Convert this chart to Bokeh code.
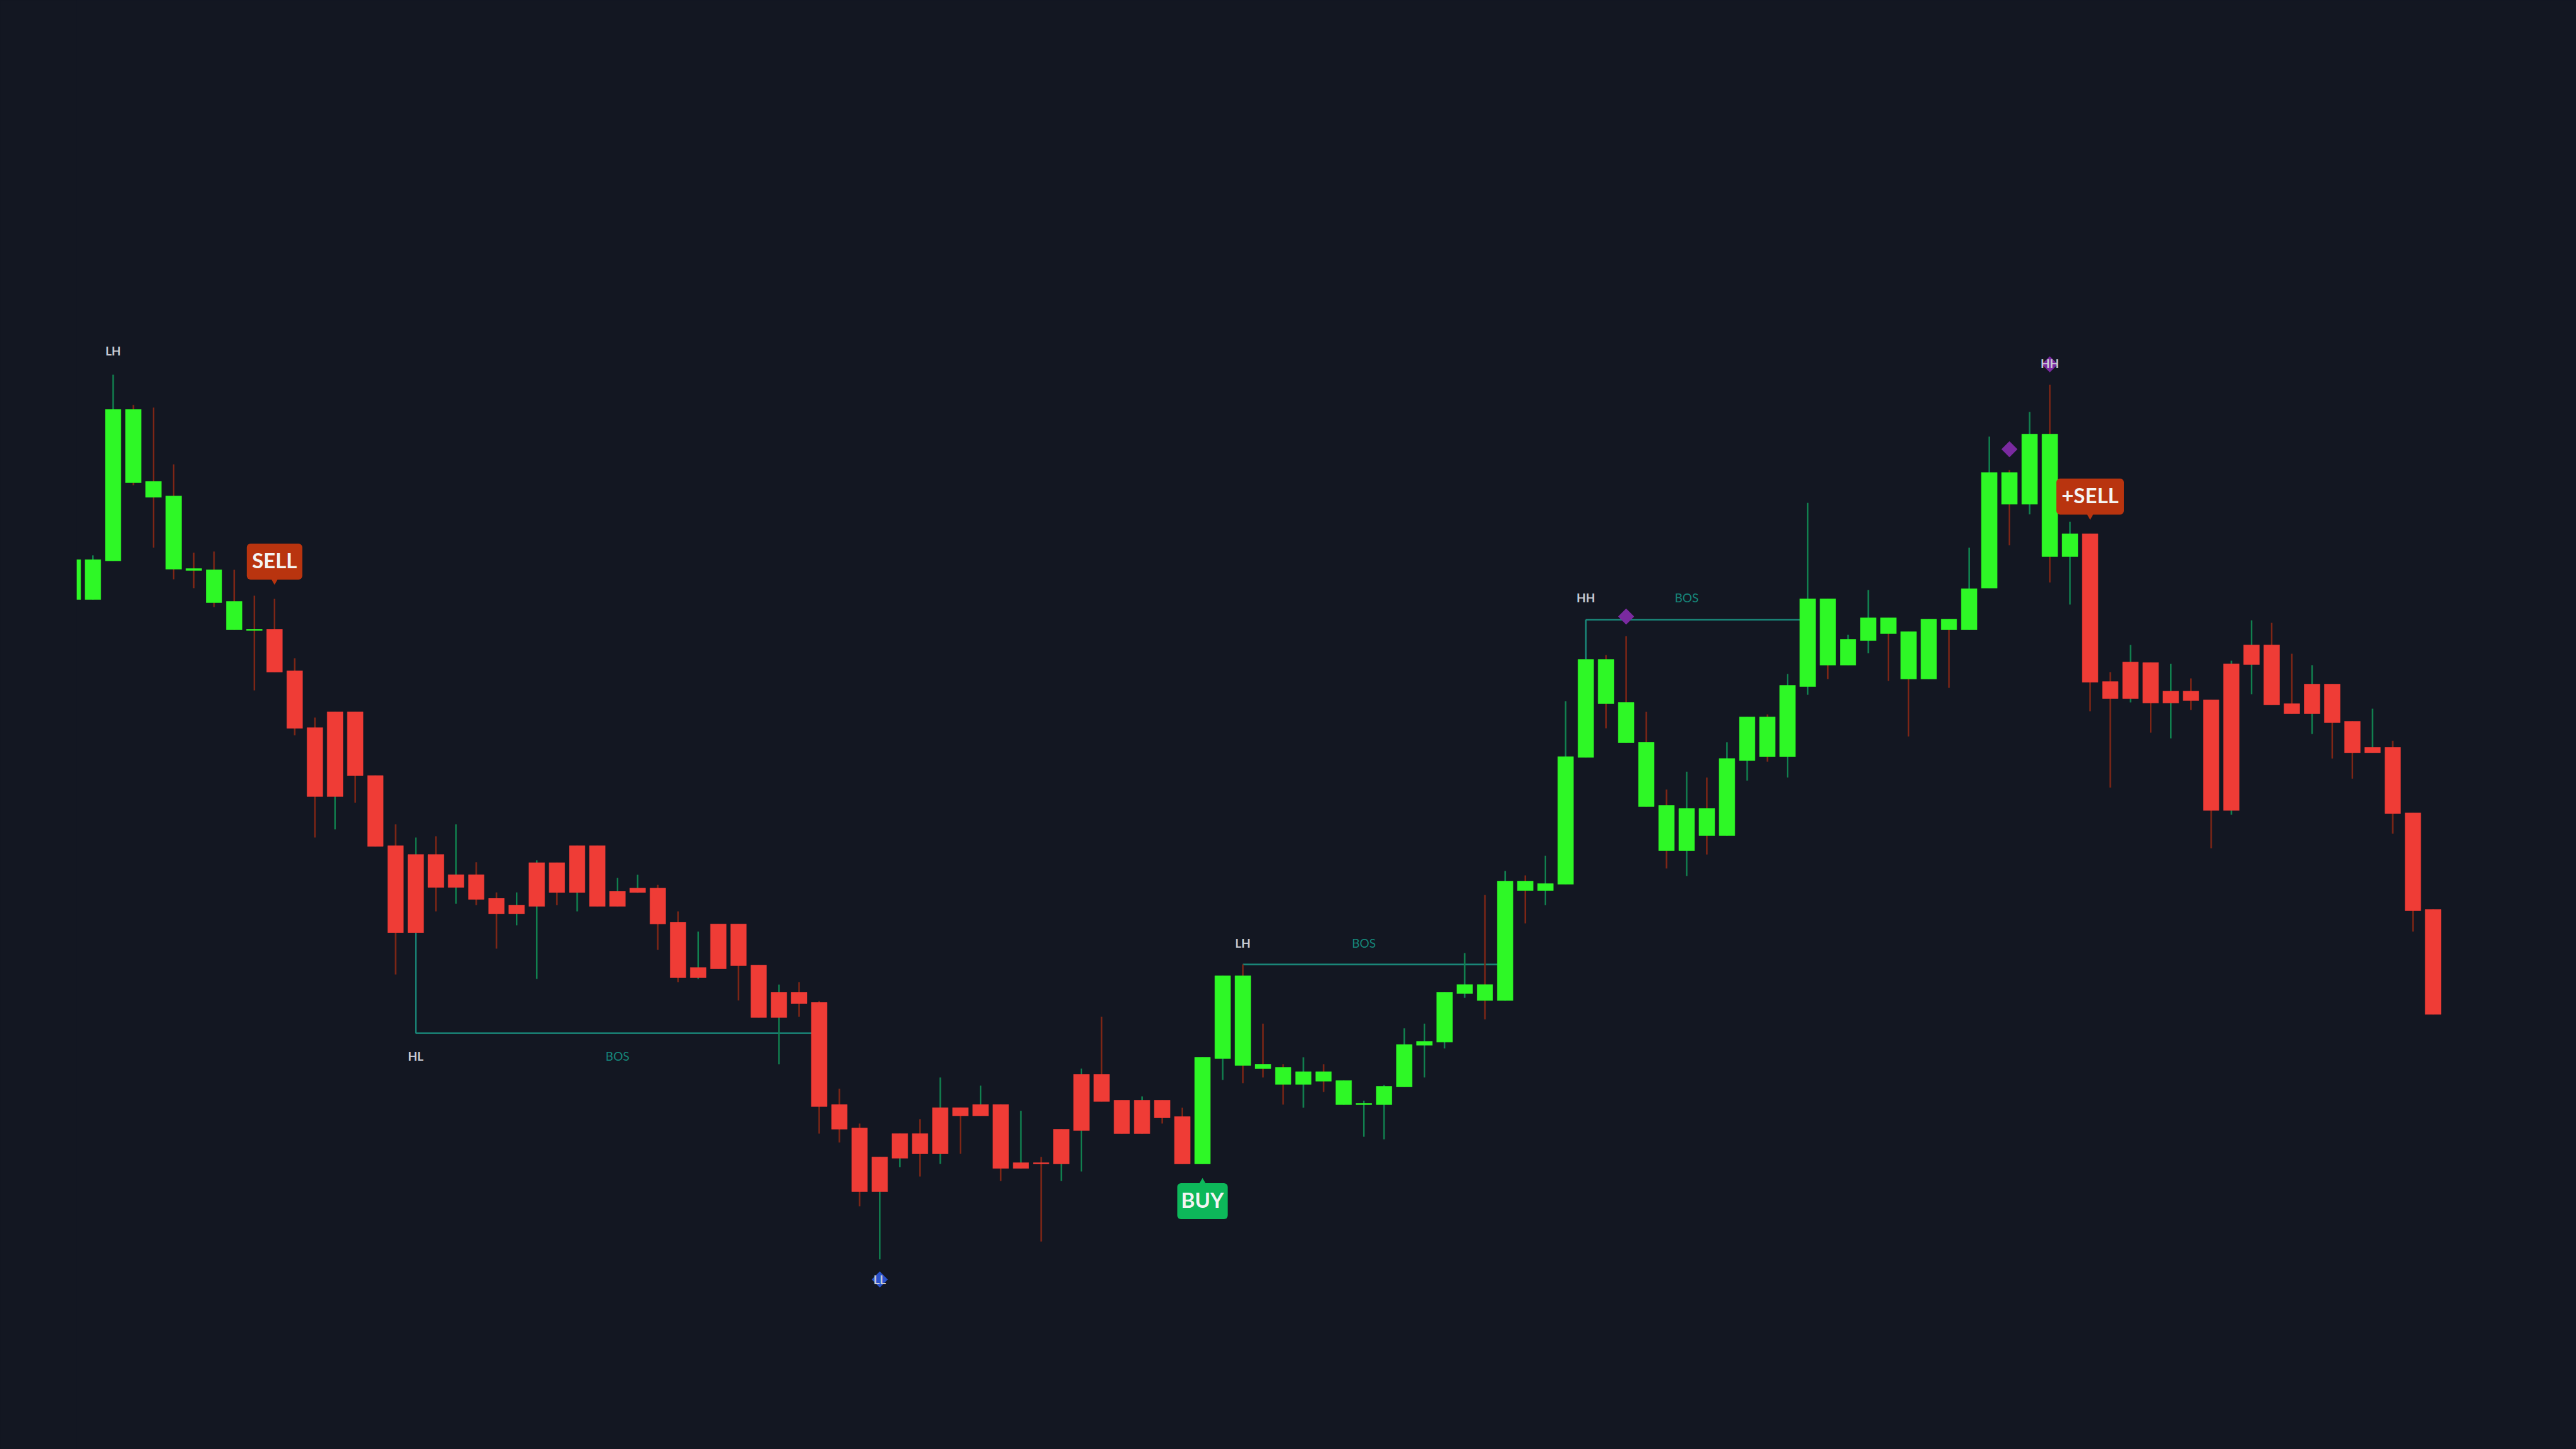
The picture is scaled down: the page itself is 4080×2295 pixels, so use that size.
import numpy as np
from bokeh.plotting import figure
from bokeh.models import ColumnDataSource, Range1d
from bokeh.core.properties import value
from bokeh.embed import file_html
from bokeh.resources import INLINE

# ---------------- data ----------------
opens = [155.1, 155.1, 161.2, 185.2, 173.8, 171.5, 160.0, 159.8, 154.8, 150.4,
         150.4, 143.8, 134.8, 123.9, 137.3, 127.2, 116.1, 102.3, 114.7, 109.5,
         111.5, 107.8, 105.3, 106.5, 113.4, 108.7, 116.1, 106.5, 108.7, 109.4,
         104.0, 95.2, 103.7, 103.7, 97.2, 88.9, 92.9, 91.3, 75.1, 71.4,
         61.3, 66.6, 70.5, 67.3, 74.6, 73.3, 75.1, 65.0, 65.9, 65.7,
         71.0, 79.9, 75.8, 70.5, 75.8, 73.2, 65.7, 82.4, 95.5, 81.5,
         81.0, 78.3, 80.3, 75.1, 75.1, 75.1, 77.9, 84.5, 85.0, 92.7,
         94.1, 91.6, 110.5, 109.0, 110.0, 130.1, 145.6, 138.8, 132.5, 122.5,
         115.3, 122.0, 117.7, 129.6, 136.5, 130.2, 141.3, 155.2, 144.7, 148.6,
         152.2, 150.0, 142.5, 152.0, 150.3, 156.9, 175.2, 170.2, 181.3, 161.9,
         165.5, 142.1, 139.4, 145.1, 138.7, 140.6, 139.2, 121.7, 144.8, 147.9,
         138.6, 137.0, 141.7, 135.8, 130.8, 131.7, 121.3, 106.0]
highs = [161.4, 162.1, 190.7, 185.9, 185.5, 176.5, 162.5, 162.7, 159.8, 155.7,
         155.2, 145.8, 136.4, 137.3, 137.3, 127.2, 119.5, 117.4, 117.6, 119.5,
         113.5, 108.7, 108.7, 113.8, 113.4, 116.1, 116.1, 111.0, 111.5, 109.9,
         105.7, 102.5, 103.7, 103.7, 97.2, 94.1, 94.5, 91.5, 77.6, 72.1,
         66.8, 70.5, 72.8, 79.4, 74.6, 78.1, 75.1, 74.1, 66.8, 71.2,
         80.8, 89.0, 75.8, 76.4, 75.8, 74.6, 82.6, 95.5, 97.3, 87.9,
         81.5, 82.6, 81.5, 78.9, 75.7, 78.2, 87.2, 87.9, 92.9, 99.1,
         108.3, 112.1, 111.4, 114.5, 139.0, 145.6, 146.3, 149.3, 137.3, 125.0,
         127.8, 126.9, 132.5, 136.5, 136.9, 143.3, 170.4, 155.2, 149.5, 156.6,
         152.2, 150.0, 152.0, 152.0, 163.3, 180.9, 175.6, 184.8, 189.1, 167.4,
         165.5, 143.6, 147.9, 145.1, 144.9, 142.6, 139.2, 145.4, 151.8, 151.4,
         146.5, 144.7, 141.7, 135.8, 137.8, 132.7, 121.3, 106.0]
lows = [155.1, 155.1, 161.2, 173.2, 163.3, 158.3, 156.9, 153.9, 150.3, 140.7,
        143.6, 133.6, 117.4, 118.7, 122.9, 116.0, 95.7, 102.3, 105.7, 106.9,
        106.7, 99.8, 103.5, 95.0, 106.7, 105.7, 106.5, 106.5, 108.7, 99.6,
        94.5, 95.0, 96.6, 91.6, 88.9, 81.5, 89.0, 70.5, 69.1, 59.0,
        50.6, 65.2, 63.7, 65.7, 67.3, 73.3, 63.0, 65.0, 53.4, 63.0,
        64.5, 75.6, 70.5, 70.5, 72.1, 65.7, 65.7, 79.0, 78.5, 79.4,
        75.1, 74.6, 77.1, 75.1, 70.0, 69.6, 77.9, 79.4, 84.0, 92.0,
        88.6, 91.6, 103.8, 106.7, 110.0, 130.1, 134.7, 132.4, 122.3, 112.5,
        111.3, 114.7, 117.7, 126.4, 129.4, 126.9, 140.0, 142.5, 144.7, 146.6,
        142.2, 133.4, 142.5, 141.1, 150.3, 156.9, 163.7, 168.6, 157.8, 154.3,
        137.4, 125.3, 138.8, 134.0, 133.1, 137.6, 115.7, 121.0, 140.1, 138.4,
        137.0, 133.8, 129.9, 126.7, 130.8, 118.0, 102.5, 89.4]
closes = [161.4, 161.4, 185.2, 173.6, 171.3, 159.9, 159.7, 154.6, 150.3, 150.2,
          143.6, 134.7, 123.9, 137.3, 127.2, 116.0, 102.3, 114.7, 109.5, 111.5,
          107.6, 105.3, 106.7, 113.4, 108.7, 116.1, 106.5, 108.9, 109.4, 103.7,
          95.2, 96.8, 96.6, 97.1, 88.9, 92.9, 91.1, 74.8, 71.2, 61.3,
          66.8, 70.5, 67.3, 74.6, 73.3, 75.1, 65.0, 65.9, 65.7, 71.2,
          79.9, 75.6, 70.5, 75.8, 73.0, 65.7, 82.6, 95.5, 81.3, 80.8,
          78.3, 80.3, 78.8, 78.9, 75.3, 78.0, 84.6, 85.1, 92.9, 94.1,
          91.6, 110.5, 109.0, 110.1, 130.2, 145.6, 138.6, 132.4, 122.3, 115.3,
          122.0, 117.7, 129.9, 136.5, 130.2, 141.5, 155.2, 144.7, 148.8, 152.2,
          149.7, 142.5, 152.0, 150.3, 156.8, 175.2, 170.2, 181.3, 161.9, 165.5,
          142.0, 139.4, 145.2, 138.7, 140.6, 139.1, 121.7, 144.9, 147.9, 138.4,
          137.0, 141.7, 135.6, 130.8, 131.7, 121.2, 105.8, 89.4]

# signals
sig_idx = [10, 56, 100]
sig_lbl = ["SELL", "BUY", "+SELL"]
sig_dir = [1, -1, 1]          # 1 = sell (above bar), -1 = buy (below bar)

# market structure swings
swing_idx = [2, 17, 40, 58, 75, 98]
swing_lbl = ["LH", "HL", "LL", "LH", "HH", "HH"]
swing_lvl = [194.5, 82.8, 47.4, 100.7, 155.4, 192.5]

# break of structure lines
bos_from = [17, 58, 75]
bos_to = [37, 71, 86]
bos_level = [86.4, 97.3, 151.9]
bos_lbl_idx = [27, 64, 80]
bos_lbl_lvl = [82.8, 100.7, 155.4]

# diamond markers
dia_idx = [40, 77, 96, 98]
dia_lvl = [47.4, 152.4, 178.9, 192.35]
dia_kind = ["low", "high", "high", "high"]

# ---------------- styling ----------------
BG = "#131722"
BULL_BODY = "#2ef826"
BEAR_BODY = "#ef3c36"
UP_WICK = "#11804f"
DN_WICK = "#7e2616"
TEAL = "#1a8a7b"
LABEL = "#c8cad3"

n = len(opens)
idx = np.arange(n)
o = np.array(opens); c = np.array(closes); h = np.array(highs); l = np.array(lows)

# body colour follows the signal regime (bull until SELL, bear until BUY ...)
state = 1
regime = []
sig_map = dict(zip(sig_idx, sig_dir))
for i in range(n):
    if i in sig_map:
        state = -sig_map[i]
    regime.append(state)
body_col = [BULL_BODY if r > 0 else BEAR_BODY for r in regime]
wick_col = [UP_WICK if cc >= oo else DN_WICK for oo, cc in zip(opens, closes)]

src = ColumnDataSource(dict(x=idx, top=np.maximum(o, c), bottom=np.minimum(o, c),
                            high=h, low=l, body=body_col, wick=wick_col))

W, H = 4080, 2295
LEFT = 121
p = figure(width=W, height=H, output_backend="svg", toolbar_location=None,
           x_range=Range1d(0.194, 124.1), y_range=Range1d(20.5, 250.0),
           min_border=0, min_border_left=LEFT, background_fill_color=BG,
           border_fill_color=BG, outline_line_color=None)
p.axis.visible = False
p.grid.visible = False

# structure lines
vx0, vy0, vx1, vy1 = [], [], [], []
hx0, hy0, hx1, hy1 = [], [], [], []
for s, e, lv in zip(bos_from, bos_to, bos_level):
    anchor = lows[s] if lv < lows[s] else highs[s]
    vx0.append(s); vy0.append(anchor); vx1.append(s); vy1.append(lv)
    hx0.append(s); hy0.append(lv); hx1.append(e); hy1.append(lv)
p.segment(x0=vx0, y0=vy0, x1=vx1, y1=vy1, line_color=TEAL, line_width=2.5)
p.segment(x0=hx0, y0=hy0, x1=hx1, y1=hy1, line_color=TEAL, line_width=2.5)

# candles
p.segment(x0="x", y0="low", x1="x", y1="high", line_color="wick", line_width=2.5, source=src)
p.vbar(x="x", width=0.78, top="top", bottom="bottom", fill_color="body",
       line_color="body", line_width=0.5, source=src)

# diamonds
p.scatter(x=dia_idx, y=dia_lvl, marker="square", angle=np.pi / 4, size=18,
          fill_color=["#2a52cc" if k == "low" else "#7a2aa0" for k in dia_kind],
          line_color=None)

# swing labels
p.text(x=swing_idx, y=swing_lvl, text=swing_lbl, text_align="center",
       text_baseline="middle", text_color=LABEL, text_font=value("Lato"),
       text_font_style="bold", text_font_size="19px")
p.text(x=bos_lbl_idx, y=bos_lbl_lvl, text=["BOS"] * len(bos_lbl_idx), text_align="center",
       text_baseline="middle", text_color="#16867a", text_font=value("Lato"),
       text_font_size="19px")

# signal bubbles
BOX_OFF = 5.9      # price units between bar extreme and bubble centre
EDGE = 2.8
box_y, tri_y, tri_marker, box_w, box_c = [], [], [], [], []
for i, lbl, d in zip(sig_idx, sig_lbl, sig_dir):
    if d > 0:
        yy = highs[i] + BOX_OFF
        tri_y.append(yy - EDGE); tri_marker.append("inverted_triangle")
        box_c.append("#b9340f")
    else:
        yy = lows[i] - BOX_OFF
        tri_y.append(yy + EDGE); tri_marker.append("triangle")
        box_c.append("#0db85a")
    box_y.append(yy)
    box_w.append({"SELL": 88, "BUY": 80, "+SELL": 107}[lbl])
bsrc = ColumnDataSource(dict(x=sig_idx, y=box_y, w=box_w, c=box_c, t=sig_lbl,
                             ty=tri_y, m=tri_marker))
p.scatter(x="x", y="ty", marker="m", size=15, fill_color="c", line_color=None, source=bsrc)
p.rect(x="x", y="y", width="w", height=57, width_units="screen", height_units="screen",
       fill_color="c", line_color=None, border_radius=6, source=bsrc)
p.text(x="x", y="y", text="t", text_align="center", text_baseline="middle",
       y_offset=-3, text_color="#f4f4f4", text_font=value("Lato"),
       text_font_style="bold", text_font_size="33px", source=bsrc)

html = file_html(p, INLINE, title="chart")
html = html.replace("</head>", "<style>body{background:%s;}</style></head>" % BG, 1)
open("out.html", "w").write(html)
